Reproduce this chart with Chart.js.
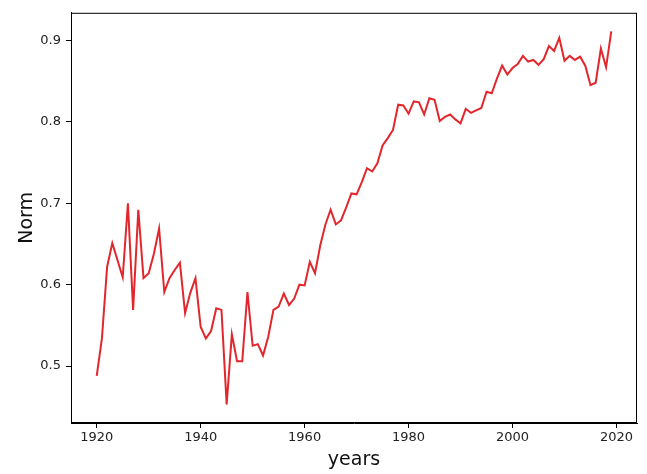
<!DOCTYPE html>
<html>
<head>
<meta charset="utf-8">
<script src="https://cdn.jsdelivr.net/npm/chart.js@4.4.0/dist/chart.umd.min.js"></script>
<style>
    html, body { margin: 0; padding: 0; background: #fff; }
    #box { width: 647px; height: 474px; }
</style>
</head>
<body>
<div id="box"><canvas id="myChart"></canvas></div>
<script>
const years = [];
for (let y = 1920; y <= 2019; y++) years.push(y);

const norm = [
    0.488, 0.534, 0.622, 0.651, 0.630, 0.609, 0.700, 0.569, 0.692, 0.608,
    0.614, 0.638, 0.669, 0.591, 0.608, 0.618, 0.627, 0.565, 0.590, 0.608,
    0.548, 0.534, 0.543, 0.571, 0.569, 0.453, 0.539, 0.506, 0.506, 0.591,
    0.525, 0.527, 0.513, 0.536, 0.569, 0.573, 0.589, 0.575, 0.583, 0.600,
    0.599, 0.628, 0.614, 0.648, 0.674, 0.692, 0.674, 0.679, 0.695, 0.712,
    0.711, 0.726, 0.743, 0.739, 0.749, 0.771, 0.780, 0.790, 0.821, 0.820,
    0.810, 0.825, 0.824, 0.809, 0.829, 0.827, 0.801, 0.806, 0.809, 0.803,
    0.798, 0.816, 0.811, 0.814, 0.817, 0.837, 0.835, 0.853, 0.869, 0.858,
    0.866, 0.871, 0.881, 0.874, 0.876, 0.870, 0.877, 0.893, 0.887, 0.903,
    0.875, 0.881, 0.876, 0.880, 0.869, 0.845, 0.848, 0.890, 0.867, 0.911
];

const xTicks = [1920, 1940, 1960, 1980, 2000, 2020];
const yTicks = [0.5, 0.6, 0.7, 0.8, 0.9];

// matplotlib style: 5% margins around the data
const xPad = (2019 - 1920) * 0.05;
const yMin = Math.min(...norm), yMax = Math.max(...norm);
const yPad = (yMax - yMin) * 0.05;

// full black frame round the plot
const frame = {
    id: 'frame',
    afterDraw(chart) {
        const {ctx, chartArea: a} = chart;
        ctx.save();
        ctx.strokeStyle = '#000';
        ctx.lineWidth = 1;
        ctx.strokeRect(a.left + 0.5, a.top + 0.5, a.right - a.left - 1, a.bottom - a.top - 1);
        ctx.restore();
    }
};

const tickFont = {family: 'DejaVu Sans', size: 13};
const titleFont = {family: 'DejaVu Sans', size: 19};

new Chart(document.getElementById('myChart'), {
    type: 'line',
    data: {
        datasets: [{
            data: years.map((y, i) => ({x: y, y: norm[i]})),
            borderColor: '#e3262b',
            borderWidth: 2,
            pointRadius: 0,
            tension: 0,
            fill: false
        }]
    },
    options: {
        responsive: true,
        maintainAspectRatio: false,
        animation: false,
        layout: {padding: {left: 0, right: 10, top: 12, bottom: 0}},
        plugins: {legend: {display: false}, tooltip: {enabled: false}},
        scales: {
            x: {
                type: 'linear',
                min: 1920 - xPad,
                max: 2019 + xPad,
                afterBuildTicks: s => { s.ticks = xTicks.map(v => ({value: v})); },
                afterFit: s => { s.height = 51; },
                ticks: {font: tickFont, color: '#222', padding: 2, maxRotation: 0, callback: v => String(v)},
                grid: {drawOnChartArea: false, drawTicks: true, tickLength: 5, tickColor: '#000'},
                border: {display: true, color: '#000'},
                title: {display: true, text: 'years', font: titleFont, color: '#111', padding: {top: 0, bottom: 3}}
            },
            y: {
                min: yMin - yPad,
                max: yMax + yPad,
                afterBuildTicks: s => { s.ticks = yTicks.map(v => ({value: v})); },
                afterFit: s => { s.width = 71; },
                ticks: {font: tickFont, color: '#222', padding: 5, callback: v => v.toFixed(1)},
                grid: {drawOnChartArea: false, drawTicks: true, tickLength: 5, tickColor: '#000'},
                border: {display: true, color: '#000'},
                title: {display: true, text: 'Norm', font: titleFont, color: '#111', padding: {top: 16, bottom: 0}}
            }
        }
    },
    plugins: [frame]
});
</script>
</body>
</html>
